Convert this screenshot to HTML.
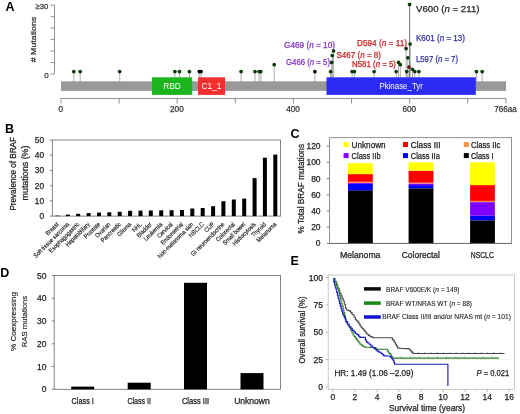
<!DOCTYPE html>
<html lang="en"><head><meta charset="utf-8"><title>BRAF mutations figure</title>
<style>html,body{margin:0;padding:0;background:#fff;}svg{display:block;}text{font-family:'Liberation Sans', sans-serif;}</style>
</head><body>
<svg width="520" height="414" viewBox="0 0 520 414">
<rect width="520" height="414" fill="#fff"/>
<g id="panelA">
<text x="5.4" y="11.4" font-size="12.5" fill="#000" font-weight="bold">A</text>
<text x="48.2" y="8.8" font-size="7.9" fill="#333" text-anchor="end" textLength="12.7" lengthAdjust="spacingAndGlyphs" stroke="#333" stroke-width="0.25">≥30</text>
<text x="48.6" y="77.5" font-size="8.0" fill="#333" text-anchor="end" stroke="#333" stroke-width="0.25">0</text>
<text x="35.6" y="39.5" font-size="7.9" fill="#333" text-anchor="middle" textLength="45.5" lengthAdjust="spacingAndGlyphs" transform="rotate(-90 35.6 39.5)" stroke="#333" stroke-width="0.25"># Mutations</text>
<path d="M54.5 5.2V74.0" stroke="#777" stroke-width="0.8" fill="none"/>
<path d="M50.5 5.2H54.5M50.5 16.7H54.5M50.5 28.1H54.5M50.5 39.6H54.5M50.5 51.1H54.5M50.5 62.6H54.5M50.5 74.0H54.5" stroke="#777" stroke-width="0.8" fill="none"/>
<path d="M73.8 71.6V82M80.2 71.6V82M119.7 71.6V82M174.9 71.6V82M179.5 71.6V82M189.4 71.6V82M199.3 71.6V82M201.0 71.6V82M241.1 71.6V82M255.0 71.6V82M259.1 71.6V82M260.8 71.6V82M274.2 64.7V82M314.9 71.6V82M330.6 71.6V82M331.7 62.4V82M332.3 55.5V82M333.5 50.9V82M352.1 71.6V82M354.4 71.6V82M374.1 71.6V82M396.2 71.6V82M398.5 62.4V82M400.3 64.7V82M406.1 48.6V82M406.7 71.6V82M407.8 57.8V82M409.6 4.4V82M410.1 44.0V82M409.0 67.0V82M412.5 69.3V82M414.8 71.6V82M418.9 71.6V82M476.4 71.6V82M482.2 71.6V82" stroke="#999" stroke-width="0.8" fill="none"/>
<path d="M409.6 5V82" stroke="#777" stroke-width="0.9" fill="none"/>
<rect x="61" y="81.3" width="445" height="9.6" fill="#999"/>
<rect x="152" y="77.3" width="40.2" height="17.6" fill="#1db51d"/>
<rect x="198" y="77.3" width="27" height="17.6" fill="#f23030"/>
<rect x="326.5" y="77.3" width="149.3" height="17.6" fill="#2b2bf2"/>
<text x="172.1" y="89.2" font-size="8.3" fill="#fff" text-anchor="middle">RBD</text>
<text x="211.5" y="89.2" font-size="8.3" fill="#fff" text-anchor="middle">C1_1</text>
<text x="401.14033942558746" y="89.2" font-size="8.6" fill="#fff" text-anchor="middle" textLength="43.5" lengthAdjust="spacingAndGlyphs">Pkinase_Tyr</text>
<circle cx="73.8" cy="71.6" r="1.85" fill="#0a3a0a"/>
<circle cx="80.2" cy="71.6" r="1.85" fill="#0a3a0a"/>
<circle cx="119.7" cy="71.6" r="1.85" fill="#0a3a0a"/>
<circle cx="174.9" cy="71.6" r="1.85" fill="#0a3a0a"/>
<circle cx="179.5" cy="71.6" r="1.85" fill="#0a3a0a"/>
<circle cx="189.4" cy="71.6" r="1.85" fill="#0a3a0a"/>
<circle cx="199.3" cy="71.6" r="1.85" fill="#000"/>
<circle cx="201.0" cy="71.6" r="1.85" fill="#000"/>
<circle cx="241.1" cy="71.6" r="1.85" fill="#0a3a0a"/>
<circle cx="255.0" cy="71.6" r="1.85" fill="#0a3a0a"/>
<circle cx="259.1" cy="71.6" r="1.85" fill="#0a3a0a"/>
<circle cx="260.8" cy="71.6" r="1.85" fill="#0a3a0a"/>
<circle cx="274.2" cy="64.7" r="1.85" fill="#0a3a0a"/>
<circle cx="314.9" cy="71.6" r="1.85" fill="#000"/>
<circle cx="330.6" cy="71.6" r="1.85" fill="#0a3a0a"/>
<circle cx="331.7" cy="62.4" r="1.85" fill="#0a3a0a"/>
<circle cx="332.3" cy="55.5" r="1.85" fill="#0a3a0a"/>
<circle cx="333.5" cy="50.9" r="1.85" fill="#0a3a0a"/>
<circle cx="352.1" cy="71.6" r="1.85" fill="#0a3a0a"/>
<circle cx="354.4" cy="71.6" r="1.85" fill="#0a3a0a"/>
<circle cx="374.1" cy="71.6" r="1.85" fill="#0a3a0a"/>
<circle cx="396.2" cy="71.6" r="1.85" fill="#0a3a0a"/>
<circle cx="398.5" cy="62.4" r="1.85" fill="#0a3a0a"/>
<circle cx="400.3" cy="64.7" r="1.85" fill="#0a3a0a"/>
<circle cx="406.1" cy="48.6" r="1.85" fill="#0a3a0a"/>
<circle cx="406.7" cy="71.6" r="1.85" fill="#0a3a0a"/>
<circle cx="407.8" cy="57.8" r="1.85" fill="#0a3a0a"/>
<circle cx="409.6" cy="4.4" r="1.85" fill="#0a3a0a"/>
<circle cx="410.1" cy="44.0" r="1.85" fill="#0a3a0a"/>
<circle cx="409.0" cy="67.0" r="1.85" fill="#5a1010"/>
<circle cx="412.5" cy="69.3" r="1.85" fill="#0a3a0a"/>
<circle cx="414.8" cy="71.6" r="1.85" fill="#0a3a0a"/>
<circle cx="418.9" cy="71.6" r="1.85" fill="#0a3a0a"/>
<circle cx="476.4" cy="71.6" r="1.85" fill="#0a3a0a"/>
<circle cx="482.2" cy="71.6" r="1.85" fill="#0a3a0a"/>
<path d="M61 98.5H506" stroke="#777" stroke-width="0.8" fill="none"/>
<path d="M61.0 98.5V103.5M119.1 98.5V103.5M177.2 98.5V103.5M235.3 98.5V103.5M293.4 98.5V103.5M351.5 98.5V103.5M409.6 98.5V103.5M467.7 98.5V103.5M506.0 98.5V103.5" stroke="#777" stroke-width="0.8" fill="none"/>
<text x="60.7" y="112.0" font-size="8.2" fill="#333" text-anchor="middle" stroke="#333" stroke-width="0.25">0</text>
<text x="176.9" y="112.0" font-size="8.2" fill="#333" text-anchor="middle" stroke="#333" stroke-width="0.25">200</text>
<text x="293.1" y="112.0" font-size="8.2" fill="#333" text-anchor="middle" stroke="#333" stroke-width="0.25">400</text>
<text x="409.3" y="112.0" font-size="8.2" fill="#333" text-anchor="middle" stroke="#333" stroke-width="0.25">600</text>
<text x="505.5" y="112.0" font-size="8.2" fill="#333" text-anchor="middle" textLength="22.5" lengthAdjust="spacingAndGlyphs" stroke="#333" stroke-width="0.25">766aa</text>
<text x="416" y="11.5" font-size="9.9" fill="#222" textLength="63.5" lengthAdjust="spacingAndGlyphs" stroke="#222" stroke-width="0.25">V600 (<tspan font-style="italic">n</tspan> = 211)</text>
<text x="416" y="41.2" font-size="8.2" fill="#3333a6" textLength="49" lengthAdjust="spacingAndGlyphs" stroke="#3333a6" stroke-width="0.25">K601 (<tspan font-style="italic">n</tspan> = 13)</text>
<text x="416" y="62.2" font-size="8.2" fill="#3333a6" textLength="42" lengthAdjust="spacingAndGlyphs" stroke="#3333a6" stroke-width="0.25">L597 (<tspan font-style="italic">n</tspan> = 7)</text>
<text x="357" y="46" font-size="8.5" fill="#cc2222" textLength="50" lengthAdjust="spacingAndGlyphs" stroke="#cc2222" stroke-width="0.25">D594 (<tspan font-style="italic">n</tspan> = 11)</text>
<text x="336.5" y="58" font-size="8.5" fill="#cc2222" textLength="44.5" lengthAdjust="spacingAndGlyphs" stroke="#cc2222" stroke-width="0.25">S467 (<tspan font-style="italic">n</tspan> = 8)</text>
<text x="352" y="67.3" font-size="8.5" fill="#cc2222" textLength="44" lengthAdjust="spacingAndGlyphs" stroke="#cc2222" stroke-width="0.25">N581 (<tspan font-style="italic">n</tspan> = 5)</text>
<text x="284" y="48" font-size="8.5" fill="#8030c0" textLength="51" lengthAdjust="spacingAndGlyphs" stroke="#8030c0" stroke-width="0.25">G469 (<tspan font-style="italic">n</tspan> = 10)</text>
<text x="286" y="64.5" font-size="8.5" fill="#8030c0" textLength="44" lengthAdjust="spacingAndGlyphs" stroke="#8030c0" stroke-width="0.25">G466 (<tspan font-style="italic">n</tspan> = 5)</text>
</g>
<g id="panelB">
<text x="5" y="133.3" font-size="12.5" fill="#000" font-weight="bold">B</text>
<rect x="52.3" y="140.0" width="228.2" height="76.1" fill="none" stroke="#666" stroke-width="0.8"/>
<path d="M49.8 216.1H52.3" stroke="#666" stroke-width="0.8"/>
<text x="44.1" y="219.0" font-size="8.3" fill="#222" text-anchor="end" stroke="#222" stroke-width="0.25">0</text>
<path d="M49.8 200.9H52.3" stroke="#666" stroke-width="0.8"/>
<text x="44.1" y="203.8" font-size="8.3" fill="#222" text-anchor="end" stroke="#222" stroke-width="0.25">10</text>
<path d="M49.8 185.7H52.3" stroke="#666" stroke-width="0.8"/>
<text x="44.1" y="188.6" font-size="8.3" fill="#222" text-anchor="end" stroke="#222" stroke-width="0.25">20</text>
<path d="M49.8 170.4H52.3" stroke="#666" stroke-width="0.8"/>
<text x="44.1" y="173.3" font-size="8.3" fill="#222" text-anchor="end" stroke="#222" stroke-width="0.25">30</text>
<path d="M49.8 155.2H52.3" stroke="#666" stroke-width="0.8"/>
<text x="44.1" y="158.1" font-size="8.3" fill="#222" text-anchor="end" stroke="#222" stroke-width="0.25">40</text>
<path d="M49.8 140.0H52.3" stroke="#666" stroke-width="0.8"/>
<text x="44.1" y="142.9" font-size="8.3" fill="#222" text-anchor="end" stroke="#222" stroke-width="0.25">50</text>
<text x="16" y="173.8" font-size="8.5" fill="#222" text-anchor="middle" textLength="73.6" lengthAdjust="spacingAndGlyphs" transform="rotate(-90 16 173.8)" stroke="#222" stroke-width="0.25">Prevalence of BRAF</text>
<text x="28" y="173" font-size="8.5" fill="#222" text-anchor="middle" textLength="55" lengthAdjust="spacingAndGlyphs" transform="rotate(-90 28 173)" stroke="#222" stroke-width="0.25">mutations (%)</text>
<rect x="55.5" y="215.6" width="4" height="0.5" fill="#000"/>
<text font-size="6.3" fill="#1a1a1a" stroke="#1a1a1a" stroke-width="0.15" text-anchor="end" transform="translate(59.1 224.8) rotate(-45) scale(0.86 1)">Breast</text>
<rect x="65.9" y="214.6" width="4" height="1.5" fill="#000"/>
<text font-size="6.3" fill="#1a1a1a" stroke="#1a1a1a" stroke-width="0.15" text-anchor="end" transform="translate(69.5 224.8) rotate(-45) scale(0.86 1)">Soft tissue sarcoma</text>
<rect x="76.2" y="213.8" width="4" height="2.3" fill="#000"/>
<text font-size="6.3" fill="#1a1a1a" stroke="#1a1a1a" stroke-width="0.15" text-anchor="end" transform="translate(79.8 224.8) rotate(-45) scale(0.86 1)">Esophagogastric</text>
<rect x="86.6" y="213.1" width="4" height="3.0" fill="#000"/>
<text font-size="6.3" fill="#1a1a1a" stroke="#1a1a1a" stroke-width="0.15" text-anchor="end" transform="translate(90.2 224.8) rotate(-45) scale(0.86 1)">Hepatobiliary</text>
<rect x="97.0" y="212.6" width="4" height="3.5" fill="#000"/>
<text font-size="6.3" fill="#1a1a1a" stroke="#1a1a1a" stroke-width="0.15" text-anchor="end" transform="translate(100.6 224.8) rotate(-45) scale(0.86 1)">Prostate</text>
<rect x="107.3" y="212.3" width="4" height="3.8" fill="#000"/>
<text font-size="6.3" fill="#1a1a1a" stroke="#1a1a1a" stroke-width="0.15" text-anchor="end" transform="translate(110.9 224.8) rotate(-45) scale(0.86 1)">Ovarian</text>
<rect x="117.7" y="211.8" width="4" height="4.3" fill="#000"/>
<text font-size="6.3" fill="#1a1a1a" stroke="#1a1a1a" stroke-width="0.15" text-anchor="end" transform="translate(121.3 224.8) rotate(-45) scale(0.86 1)">Pancreatic</text>
<rect x="128.1" y="210.8" width="4" height="5.3" fill="#000"/>
<text font-size="6.3" fill="#1a1a1a" stroke="#1a1a1a" stroke-width="0.15" text-anchor="end" transform="translate(131.7 224.8) rotate(-45) scale(0.86 1)">Glioma</text>
<rect x="138.5" y="210.6" width="4" height="5.5" fill="#000"/>
<text font-size="6.3" fill="#1a1a1a" stroke="#1a1a1a" stroke-width="0.15" text-anchor="end" transform="translate(142.1 224.8) rotate(-45) scale(0.86 1)">NHL</text>
<rect x="148.8" y="210.5" width="4" height="5.6" fill="#000"/>
<text font-size="6.3" fill="#1a1a1a" stroke="#1a1a1a" stroke-width="0.15" text-anchor="end" transform="translate(152.4 224.8) rotate(-45) scale(0.86 1)">Bladder</text>
<rect x="159.2" y="210.3" width="4" height="5.8" fill="#000"/>
<text font-size="6.3" fill="#1a1a1a" stroke="#1a1a1a" stroke-width="0.15" text-anchor="end" transform="translate(162.8 224.8) rotate(-45) scale(0.86 1)">Leukemia</text>
<rect x="169.6" y="210.2" width="4" height="5.9" fill="#000"/>
<text font-size="6.3" fill="#1a1a1a" stroke="#1a1a1a" stroke-width="0.15" text-anchor="end" transform="translate(173.2 224.8) rotate(-45) scale(0.86 1)">Cervical</text>
<rect x="180.0" y="210.0" width="4" height="6.1" fill="#000"/>
<text font-size="6.3" fill="#1a1a1a" stroke="#1a1a1a" stroke-width="0.15" text-anchor="end" transform="translate(183.6 224.8) rotate(-45) scale(0.86 1)">Endometrial</text>
<rect x="190.3" y="208.5" width="4" height="7.6" fill="#000"/>
<text font-size="6.3" fill="#1a1a1a" stroke="#1a1a1a" stroke-width="0.15" text-anchor="end" transform="translate(193.9 224.8) rotate(-45) scale(0.86 1)">Non-melanoma skin</text>
<rect x="200.7" y="208.0" width="4" height="8.1" fill="#000"/>
<text font-size="6.3" fill="#1a1a1a" stroke="#1a1a1a" stroke-width="0.15" text-anchor="end" transform="translate(204.3 224.8) rotate(-45) scale(0.86 1)">NSCLC</text>
<rect x="211.1" y="206.2" width="4" height="9.9" fill="#000"/>
<text font-size="6.3" fill="#1a1a1a" stroke="#1a1a1a" stroke-width="0.15" text-anchor="end" transform="translate(214.7 224.8) rotate(-45) scale(0.86 1)">CUP</text>
<rect x="221.4" y="201.2" width="4" height="14.9" fill="#000"/>
<text font-size="6.3" fill="#1a1a1a" stroke="#1a1a1a" stroke-width="0.15" text-anchor="end" transform="translate(225.0 224.8) rotate(-45) scale(0.86 1)">GI neuroendocrine</text>
<rect x="231.8" y="199.5" width="4" height="16.6" fill="#000"/>
<text font-size="6.3" fill="#1a1a1a" stroke="#1a1a1a" stroke-width="0.15" text-anchor="end" transform="translate(235.4 224.8) rotate(-45) scale(0.86 1)">Colorectal</text>
<rect x="242.2" y="198.6" width="4" height="17.5" fill="#000"/>
<text font-size="6.3" fill="#1a1a1a" stroke="#1a1a1a" stroke-width="0.15" text-anchor="end" transform="translate(245.8 224.8) rotate(-45) scale(0.86 1)">Small bowel</text>
<rect x="252.6" y="178.1" width="4" height="38.0" fill="#000"/>
<text font-size="6.3" fill="#1a1a1a" stroke="#1a1a1a" stroke-width="0.15" text-anchor="end" transform="translate(256.2 224.8) rotate(-45) scale(0.86 1)">Histiocytosis</text>
<rect x="262.9" y="157.7" width="4" height="58.4" fill="#000"/>
<text font-size="6.3" fill="#1a1a1a" stroke="#1a1a1a" stroke-width="0.15" text-anchor="end" transform="translate(266.5 224.8) rotate(-45) scale(0.86 1)">Thyroid</text>
<rect x="273.3" y="154.6" width="4" height="61.5" fill="#000"/>
<text font-size="6.3" fill="#1a1a1a" stroke="#1a1a1a" stroke-width="0.15" text-anchor="end" transform="translate(276.9 224.8) rotate(-45) scale(0.86 1)">Melanoma</text>
</g>
<g id="panelC">
<text x="290.5" y="137.7" font-size="12.5" fill="#000" font-weight="bold">C</text>
<rect x="329.6" y="137.7" width="182.0" height="105.70000000000002" fill="none" stroke="#777" stroke-width="0.8"/>
<path d="M326.6 243.4H329.6" stroke="#666" stroke-width="0.8"/>
<text x="320.6" y="246.3" font-size="8.5" fill="#222" text-anchor="end" stroke="#222" stroke-width="0.25">0</text>
<path d="M326.6 227.2H329.6" stroke="#666" stroke-width="0.8"/>
<text x="320.6" y="230.1" font-size="8.5" fill="#222" text-anchor="end" stroke="#222" stroke-width="0.25">20</text>
<path d="M326.6 211.0H329.6" stroke="#666" stroke-width="0.8"/>
<text x="320.6" y="213.9" font-size="8.5" fill="#222" text-anchor="end" stroke="#222" stroke-width="0.25">40</text>
<path d="M326.6 194.8H329.6" stroke="#666" stroke-width="0.8"/>
<text x="320.6" y="197.7" font-size="8.5" fill="#222" text-anchor="end" stroke="#222" stroke-width="0.25">60</text>
<path d="M326.6 178.6H329.6" stroke="#666" stroke-width="0.8"/>
<text x="320.6" y="181.5" font-size="8.5" fill="#222" text-anchor="end" stroke="#222" stroke-width="0.25">80</text>
<path d="M326.6 162.4H329.6" stroke="#666" stroke-width="0.8"/>
<text x="320.6" y="165.3" font-size="8.5" fill="#222" text-anchor="end" stroke="#222" stroke-width="0.25">100</text>
<path d="M326.6 146.2H329.6" stroke="#666" stroke-width="0.8"/>
<text x="320.6" y="149.1" font-size="8.5" fill="#222" text-anchor="end" stroke="#222" stroke-width="0.25">120</text>
<text x="304.2" y="188.7" font-size="8.5" fill="#222" text-anchor="middle" textLength="89.5" lengthAdjust="spacingAndGlyphs" transform="rotate(-90 304.2 188.7)" stroke="#222" stroke-width="0.25">% Total BRAF mutations</text>
<rect x="348.0" y="190.3" width="24.8" height="53.1" fill="#000"/>
<rect x="348.0" y="183.9" width="24.8" height="6.5" fill="#0000ff"/>
<rect x="348.0" y="182.8" width="24.8" height="1.1" fill="#7f00ff"/>
<rect x="348.0" y="181.8" width="24.8" height="1.0" fill="#f79646"/>
<rect x="348.0" y="174.1" width="24.8" height="7.7" fill="#ff0000"/>
<rect x="348.0" y="163.2" width="24.8" height="10.9" fill="#ffff00"/>
<text x="360.2" y="258" font-size="8.5" fill="#222" text-anchor="middle" textLength="40.5" lengthAdjust="spacingAndGlyphs" stroke="#222" stroke-width="0.25">Melanoma</text>
<rect x="408.6" y="188.3" width="24.8" height="55.1" fill="#000"/>
<rect x="408.6" y="185.1" width="24.8" height="3.2" fill="#0000ff"/>
<rect x="408.6" y="183.5" width="24.8" height="1.6" fill="#7f00ff"/>
<rect x="408.6" y="182.7" width="24.8" height="0.8" fill="#f79646"/>
<rect x="408.6" y="170.7" width="24.8" height="12.0" fill="#ff0000"/>
<rect x="408.6" y="162.4" width="24.8" height="8.3" fill="#ffff00"/>
<text x="420.8" y="258" font-size="8.5" fill="#222" text-anchor="middle" textLength="38.2" lengthAdjust="spacingAndGlyphs" stroke="#222" stroke-width="0.25">Colorectal</text>
<rect x="470.1" y="220.3" width="24.8" height="23.1" fill="#000"/>
<rect x="470.1" y="215.7" width="24.8" height="4.6" fill="#0000ff"/>
<rect x="470.1" y="202.1" width="24.8" height="13.6" fill="#7f00ff"/>
<rect x="470.1" y="200.9" width="24.8" height="1.2" fill="#f79646"/>
<rect x="470.1" y="185.1" width="24.8" height="15.8" fill="#ff0000"/>
<rect x="470.1" y="162.4" width="24.8" height="22.7" fill="#ffff00"/>
<text x="482.3" y="258" font-size="8.5" fill="#222" text-anchor="middle" textLength="23" lengthAdjust="spacingAndGlyphs" stroke="#222" stroke-width="0.25">NSCLC</text>
<path d="M329.6 243.4H511.6" stroke="#666" stroke-width="0.8"/>
<rect x="343.6" y="142.0" width="5" height="5" fill="#ffff00"/>
<text x="351.6" y="147.5" font-size="8.5" fill="#222" textLength="34" lengthAdjust="spacingAndGlyphs" stroke="#222" stroke-width="0.25">Unknown</text>
<rect x="403.0" y="142.0" width="5" height="5" fill="#ff0000"/>
<text x="410.8" y="147.5" font-size="8.5" fill="#222" textLength="29.8" lengthAdjust="spacingAndGlyphs" stroke="#222" stroke-width="0.25">Class III</text>
<rect x="463.8" y="142.0" width="5" height="5" fill="#f79646"/>
<text x="471.0" y="147.5" font-size="8.5" fill="#222" textLength="29.4" lengthAdjust="spacingAndGlyphs" stroke="#222" stroke-width="0.25">Class IIc</text>
<rect x="343.6" y="153.1" width="5" height="5" fill="#7f00ff"/>
<text x="351.6" y="158.6" font-size="8.5" fill="#222" textLength="29.1" lengthAdjust="spacingAndGlyphs" stroke="#222" stroke-width="0.25">Class IIb</text>
<rect x="403.0" y="153.1" width="5" height="5" fill="#0000ff"/>
<text x="410.8" y="158.6" font-size="8.5" fill="#222" textLength="29" lengthAdjust="spacingAndGlyphs" stroke="#222" stroke-width="0.25">Class IIa</text>
<rect x="463.8" y="153.1" width="5" height="5" fill="#000"/>
<text x="471.0" y="158.6" font-size="8.5" fill="#222" textLength="22.6" lengthAdjust="spacingAndGlyphs" stroke="#222" stroke-width="0.25">Class I</text>
</g>
<g id="panelD">
<text x="0.2" y="276.6" font-size="12.5" fill="#000" font-weight="bold">D</text>
<rect x="54.2" y="275.5" width="226.2" height="113.80000000000001" fill="none" stroke="#666" stroke-width="0.8"/>
<path d="M51.7 389.3H54.2" stroke="#666" stroke-width="0.8"/>
<text x="46.5" y="392.3" font-size="8.5" fill="#222" text-anchor="end" stroke="#222" stroke-width="0.25">0</text>
<path d="M51.7 366.5H54.2" stroke="#666" stroke-width="0.8"/>
<text x="46.5" y="369.5" font-size="8.5" fill="#222" text-anchor="end" stroke="#222" stroke-width="0.25">10</text>
<path d="M51.7 343.8H54.2" stroke="#666" stroke-width="0.8"/>
<text x="46.5" y="346.8" font-size="8.5" fill="#222" text-anchor="end" stroke="#222" stroke-width="0.25">20</text>
<path d="M51.7 321.0H54.2" stroke="#666" stroke-width="0.8"/>
<text x="46.5" y="324.0" font-size="8.5" fill="#222" text-anchor="end" stroke="#222" stroke-width="0.25">30</text>
<path d="M51.7 298.3H54.2" stroke="#666" stroke-width="0.8"/>
<text x="46.5" y="301.3" font-size="8.5" fill="#222" text-anchor="end" stroke="#222" stroke-width="0.25">40</text>
<path d="M51.7 275.5H54.2" stroke="#666" stroke-width="0.8"/>
<text x="46.5" y="278.5" font-size="8.5" fill="#222" text-anchor="end" stroke="#222" stroke-width="0.25">50</text>
<text x="16.2" y="321.5" font-size="7.7" fill="#222" text-anchor="middle" textLength="59" lengthAdjust="spacingAndGlyphs" transform="rotate(-90 16.2 321.5)" stroke="#222" stroke-width="0.15">% Coexpressing</text>
<text x="27.4" y="321.5" font-size="7.7" fill="#222" text-anchor="middle" textLength="51.4" lengthAdjust="spacingAndGlyphs" transform="rotate(-90 27.4 321.5)" stroke="#222" stroke-width="0.15">RAS mutations</text>
<rect x="71.2" y="386.6" width="23" height="2.7" fill="#000"/>
<text x="82.7" y="404.3" font-size="8.3" fill="#222" text-anchor="middle" textLength="22.3" lengthAdjust="spacingAndGlyphs" stroke="#222" stroke-width="0.25">Class I</text>
<rect x="127.7" y="382.7" width="23" height="6.6" fill="#000"/>
<text x="139.2" y="404.3" font-size="8.3" fill="#222" text-anchor="middle" textLength="23.5" lengthAdjust="spacingAndGlyphs" stroke="#222" stroke-width="0.25">Class II</text>
<rect x="184.0" y="282.8" width="23" height="106.5" fill="#000"/>
<text x="195.5" y="404.3" font-size="8.3" fill="#222" text-anchor="middle" textLength="27.2" lengthAdjust="spacingAndGlyphs" stroke="#222" stroke-width="0.25">Class III</text>
<rect x="240.5" y="373.1" width="23" height="16.2" fill="#000"/>
<text x="252" y="404.3" font-size="8.3" fill="#222" text-anchor="middle" textLength="35.6" lengthAdjust="spacingAndGlyphs" stroke="#222" stroke-width="0.25">Unknown</text>
</g>
<g id="panelE">
<text x="290.4" y="265.1" font-size="12.5" fill="#000" font-weight="bold">E</text>
<rect x="328.2" y="275.0" width="186.40000000000003" height="114.30000000000001" fill="none" stroke="#bbb" stroke-width="0.8"/>
<path d="M328.2 359.5H514.6" stroke="#ccc" stroke-width="0.6" stroke-dasharray="1 1"/>
<path d="M325.7 386.8H328.2" stroke="#999" stroke-width="0.7"/>
<text x="323" y="390.0" font-size="8.5" fill="#222" text-anchor="end" stroke="#222" stroke-width="0.25">0</text>
<path d="M325.7 359.5H328.2" stroke="#999" stroke-width="0.7"/>
<text x="323" y="362.7" font-size="8.5" fill="#222" text-anchor="end" stroke="#222" stroke-width="0.25">25</text>
<path d="M325.7 332.2H328.2" stroke="#999" stroke-width="0.7"/>
<text x="323" y="335.4" font-size="8.5" fill="#222" text-anchor="end" stroke="#222" stroke-width="0.25">50</text>
<path d="M325.7 304.9H328.2" stroke="#999" stroke-width="0.7"/>
<text x="323" y="308.1" font-size="8.5" fill="#222" text-anchor="end" stroke="#222" stroke-width="0.25">75</text>
<path d="M325.7 277.6H328.2" stroke="#999" stroke-width="0.7"/>
<text x="323" y="280.8" font-size="8.5" fill="#222" text-anchor="end" stroke="#222" stroke-width="0.25">100</text>
<path d="M332.9 389.3v2.5" stroke="#999" stroke-width="0.7"/>
<text x="332.9" y="399.7" font-size="8.5" fill="#222" text-anchor="middle" stroke="#222" stroke-width="0.25">0</text>
<path d="M354.9 389.3v2.5" stroke="#999" stroke-width="0.7"/>
<text x="354.9" y="399.7" font-size="8.5" fill="#222" text-anchor="middle" stroke="#222" stroke-width="0.25">2</text>
<path d="M377.0 389.3v2.5" stroke="#999" stroke-width="0.7"/>
<text x="377.0" y="399.7" font-size="8.5" fill="#222" text-anchor="middle" stroke="#222" stroke-width="0.25">4</text>
<path d="M399.0 389.3v2.5" stroke="#999" stroke-width="0.7"/>
<text x="399.0" y="399.7" font-size="8.5" fill="#222" text-anchor="middle" stroke="#222" stroke-width="0.25">6</text>
<path d="M421.1 389.3v2.5" stroke="#999" stroke-width="0.7"/>
<text x="421.1" y="399.7" font-size="8.5" fill="#222" text-anchor="middle" stroke="#222" stroke-width="0.25">8</text>
<path d="M443.1 389.3v2.5" stroke="#999" stroke-width="0.7"/>
<text x="443.1" y="399.7" font-size="8.5" fill="#222" text-anchor="middle" stroke="#222" stroke-width="0.25">10</text>
<path d="M465.1 389.3v2.5" stroke="#999" stroke-width="0.7"/>
<text x="465.1" y="399.7" font-size="8.5" fill="#222" text-anchor="middle" stroke="#222" stroke-width="0.25">12</text>
<path d="M487.2 389.3v2.5" stroke="#999" stroke-width="0.7"/>
<text x="487.2" y="399.7" font-size="8.5" fill="#222" text-anchor="middle" stroke="#222" stroke-width="0.25">14</text>
<path d="M509.2 389.3v2.5" stroke="#999" stroke-width="0.7"/>
<text x="509.2" y="399.7" font-size="8.5" fill="#222" text-anchor="middle" stroke="#222" stroke-width="0.25">16</text>
<path d="M343.9 389.3v1.5M366.0 389.3v1.5M388.0 389.3v1.5M410.0 389.3v1.5M432.1 389.3v1.5M454.1 389.3v1.5M476.2 389.3v1.5M498.2 389.3v1.5" stroke="#aaa" stroke-width="0.6"/>
<text x="427" y="411.3" font-size="8.5" fill="#222" text-anchor="middle" textLength="76" lengthAdjust="spacingAndGlyphs" stroke="#222" stroke-width="0.25">Survival time (years)</text>
<text x="305" y="330" font-size="8.5" fill="#222" text-anchor="middle" textLength="67" lengthAdjust="spacingAndGlyphs" transform="rotate(-90 305 330)" stroke="#222" stroke-width="0.25">Overall survival (%)</text>
<path d="M333.1 278.5H334.9V282.1H336.7V285.8H337.8V288.3H338.9V290.8H339.9V293.4H341.0V295.9H342.1V298.4H343.2V301.0H344.3V304.2H345.4V307.5H346.0V308.8H346.6V310.0H348.1V310.6H349.7V311.1H350.8V312.6H351.9V314.0H352.5V314.5H353.1V315.0H354.2V317.3H355.4V319.6H356.5V320.8H357.7V321.9H358.9V323.9H360.0V325.8H361.1V327.3H362.3V328.8H363.5V330.0H364.6V331.2H365.8V332.7H366.9V334.2H368.4V335.4H370.0V336.5H371.6V337.1H373.1V337.8H382.3V337.8H391.5V337.8H392.3V339.1H393.1V340.4H394.2V342.3H395.4V344.2H396.5V346.1H397.7V348.1H399.6V348.3H401.5V348.5H405.0V348.6H408.5V348.8H409.6V350.0H410.8V351.2H412.0V352.4H413.1V353.5H504.5V353.5" stroke="#4a4a4a" stroke-width="1.1" fill="none"/>
<path d="M333.1 278.5H334.6V281.4H336.0V284.3H337.4V288.3H338.9V292.3H339.2V294.1H339.6V295.9H340.3V299.5H341.0V303.2H342.1V306.4H343.2V309.7H343.9V312.6H344.7V315.5H345.4V318.8H346.1V322.0H346.9V323.5H347.7V325.0H349.2V327.7H350.8V330.4H352.0V332.7H353.1V335.0H354.2V336.6H355.4V338.1H356.5V339.6H357.7V341.2H358.9V342.7H360.0V344.2H361.6V345.4H363.1V346.5H364.2V346.9H365.4V347.3H369.6V347.5H373.8V347.6H375.4V348.4H376.9V349.2H381.5V349.2H386.2V349.2H387.4V350.9H388.5V352.7H389.6V353.9H390.8V355.0H391.6V356.6H392.3V358.1H499.0V358.1" stroke="#2a802a" stroke-width="1.1" fill="none"/>
<path d="M333.1 278.5H333.8V281.8H334.5V285.0H335.2V287.2H336.0V289.4H336.7V292.3H337.4V295.2H338.1V298.1H338.9V301.0H339.6V303.6H340.3V306.1H341.1V308.6H341.8V311.1H342.5V313.3H343.2V315.5H344.3V317.6H345.4V319.8H345.8V320.9H346.2V321.9H347.7V324.2H349.2V326.5H350.8V328.4H352.3V330.4H353.9V331.9H355.4V333.5H356.9V334.6H358.5V335.8H359.2V336.6H360.0V337.3H362.3V337.3H364.6V337.3H365.4V339.6H366.2V341.9H367.7V343.0H369.2V344.2H370.8V345.8H372.3V347.3H373.9V348.5H375.4V349.6H376.9V350.8H378.5V351.9H380.0V352.7H381.5V353.5H382.6V354.6H383.8V355.8H386.5V356.0H389.2V356.2H390.4V357.1H391.5V358.1H392.3V359.2H393.1V360.4H393.9V362.3H394.6V364.2H447.9V364.2H447.9V386.0" stroke="#1c1cc4" stroke-width="1.15" fill="none"/>
<path d="M412.0 351.8v1.5M418.3 351.8v1.5M424.6 351.8v1.5M430.9 351.8v1.5M437.2 351.8v1.5M443.5 351.8v1.5M449.8 351.8v1.5M456.1 351.8v1.5M462.4 351.8v1.5M468.7 351.8v1.5M475.0 351.8v1.5M481.3 351.8v1.5M487.6 351.8v1.5M493.9 351.8v1.5M500.2 351.8v1.5" stroke="#555" stroke-width="0.5"/>
<path d="M392.0 356.1v1.5M401.1 356.1v1.5M410.2 356.1v1.5M419.3 356.1v1.5M428.4 356.1v1.5M437.5 356.1v1.5M446.6 356.1v1.5M455.7 356.1v1.5M464.8 356.1v1.5M473.9 356.1v1.5M483.0 356.1v1.5M492.1 356.1v1.5" stroke="#2e8b2e" stroke-width="0.5"/>
<path d="M364 288.9H380.8" stroke="#0a0a0a" stroke-width="3.5"/>
<path d="M364 303.1H380.8" stroke="#1b851b" stroke-width="3.5"/>
<path d="M364 317H380.8" stroke="#1212d8" stroke-width="3.5"/>
<text x="386" y="291.7" font-size="6.6" fill="#222" textLength="73.5" lengthAdjust="spacingAndGlyphs" stroke="#222" stroke-width="0.1">BRAF V600E/K (<tspan font-style="italic">n</tspan> = 149)</text>
<text x="386" y="305.7" font-size="6.6" fill="#222" textLength="86" lengthAdjust="spacingAndGlyphs" stroke="#222" stroke-width="0.1">BRAF WT/NRAS WT (<tspan font-style="italic">n</tspan> = 88)</text>
<text x="382.3" y="319.4" font-size="6.6" fill="#222" textLength="128.7" lengthAdjust="spacingAndGlyphs" stroke="#222" stroke-width="0.1">BRAF Class II/III and/or NRAS mt (<tspan font-style="italic">n</tspan> = 101)</text>
<text x="334.4" y="376" font-size="8.8" fill="#222" textLength="79" lengthAdjust="spacingAndGlyphs" stroke="#222" stroke-width="0.25">HR: 1.49 (1.06 –2.09)</text>
<text x="476.4" y="376" font-size="8.8" fill="#222" textLength="33" lengthAdjust="spacingAndGlyphs" stroke="#222" stroke-width="0.25"><tspan font-style="italic">P</tspan> = 0.021</text>
</g>
</svg></body></html>
